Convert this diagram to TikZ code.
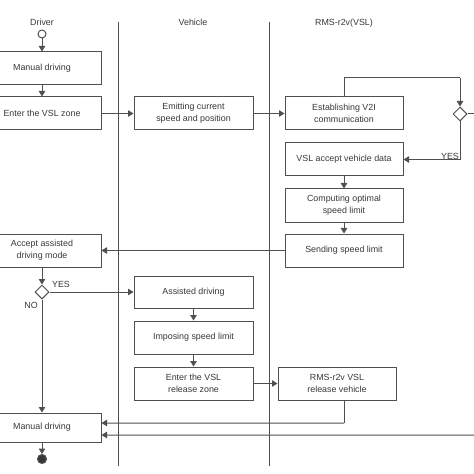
\documentclass[tikz,border=0pt]{standalone}
\usepackage{fontspec}
\setmainfont{Liberation Sans}
\usetikzlibrary{arrows.meta,shapes.geometric}
\definecolor{ln}{HTML}{505050}
\definecolor{tx}{HTML}{383838}
\begin{document}
\begin{tikzpicture}[x=1bp,y=-1bp,
  every node/.style={text=tx,font=\fontsize{8.9}{12}\selectfont},
  box/.style={draw=ln,line width=1bp,minimum width=118bp,minimum height=33bp,align=center,inner sep=0pt},
  dec/.style={draw=ln,line width=1bp,diamond,minimum width=14bp,minimum height=14bp,inner sep=0pt,fill=white},
  arr/.style={draw=ln,line width=1bp,-{Triangle[length=5.5bp,width=6.5bp]}},
  ln/.style={draw=ln,line width=1bp},
  lane/.style={draw=ln,line width=1bp}]
\useasboundingbox (0,0) rectangle (474,474);
\clip (0,0) rectangle (474,474);
% lanes
\node (hDriver) at (42,22) {Driver};
\node (hVehicle) at (193,22) {Vehicle};
\node (hRMS) at (344,23) {RMS-r2v(VSL)};
\coordinate (l1t) at (118,22); \coordinate (l1b) at (118,466);
\coordinate (l2t) at (269,22); \coordinate (l2b) at (269,466);
\draw[lane] (l1t) -- (l1b);
\draw[lane] (l2t) -- (l2b);
% driver
\node[circle,draw=ln,line width=1bp,minimum size=8bp,inner sep=0pt] (start) at (42,34) {};
\node[box] (md1) at (42,68.5) {Manual driving};
\node[box] (evz) at (42,113.5) {Enter the VSL zone};
\node[box] (acc) at (42,250.5) {Accept assisted\\driving mode};
\node[dec] (d2) at (42,292) {};
\node[box,minimum height=29bp] (md2) at (42,427.5) {Manual driving};
\node[circle,fill=tx,draw=ln,line width=1bp,minimum size=9bp,inner sep=0pt] (stop) at (42,459) {};
\node (yes2) at (61,284) {YES};
\node (no2) at (31,305) {NO};
% vehicle
\node[box,minimum width=119bp] (emit) at (193.5,113.5) {Emitting current\\speed and position};
\node[box,minimum width=119bp,minimum height=32bp] (ass) at (193.5,292) {Assisted driving};
\node[box,minimum width=119bp] (imp) at (193.5,337.5) {Imposing speed limit};
\node[box,minimum width=119bp] (erz) at (193.5,383.5) {Enter the VSL\\release zone};
% RMS
\node[box] (est) at (344,113.5) {Establishing V2I\\communication};
\node[dec] (d1) at (460,114) {};
\node[box] (vsl) at (344,159.5) {VSL accept vehicle data};
\node[box] (comp) at (344,205.5) {Computing optimal\\speed limit};
\node[box] (send) at (344,250.5) {Sending speed limit};
\node[box] (rel) at (337,383.5) {RMS-r2v VSL\\release vehicle};
\node (yes1) at (450,156) {YES};
% coordinates
\coordinate (loopL) at (344,78);
\coordinate (loopR) at (460,78);
\coordinate (edgeR) at (474,114);
\coordinate (edgeR2) at (474,435);
\coordinate (relB) at (344,400);
\coordinate (relC) at (344,423);
% connectors
\draw[arr] (start) -- (md1);
\draw[arr] (md1) -- (evz);
\draw[arr] (evz) -- (emit);
\draw[arr] (emit) -- (est);
\draw[ln] (est.north) -- (loopL) -- (loopR);
\draw[arr] (loopR) -- (d1.north);
\draw[ln] (d1.east) -- (edgeR);
\draw[arr] (d1.south) |- (vsl.east);
\draw[arr] (vsl) -- (comp);
\draw[arr] (comp) -- (send);
\draw[arr] (send) -- (acc);
\draw[arr] (acc) -- (d2);
\draw[arr] (d2.east) -- (ass.west);
\draw[arr] (d2.south) -- (md2.north);
\draw[arr] (ass) -- (imp);
\draw[arr] (imp) -- (erz);
\draw[arr] (erz) -- (rel);
\draw[ln] (relB) -- (relC);
\draw[arr] (relC) -- ([yshift=4.5bp]md2.east);
\draw[arr] (edgeR2) -- ([yshift=-7.5bp]md2.east);
\draw[arr] (md2) -- (stop);
\end{tikzpicture}
\end{document}
